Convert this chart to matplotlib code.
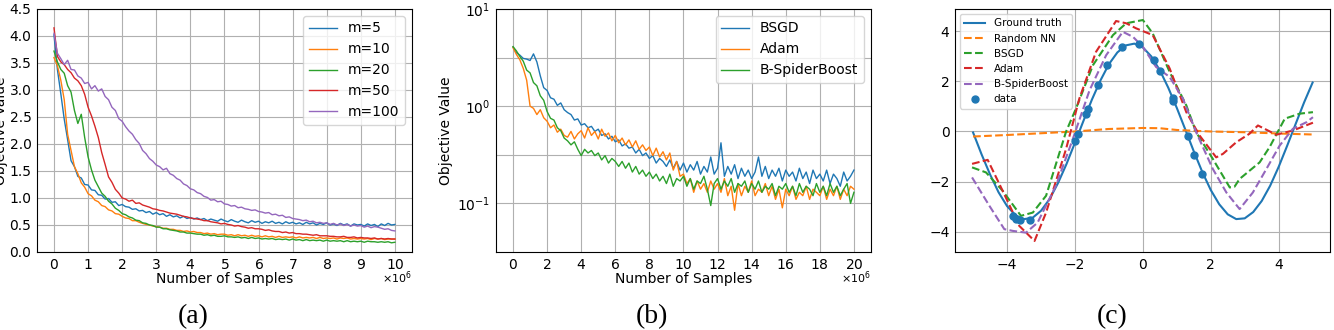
# Three-panel figure: batch sizes, optimizer comparison, regression fit
import numpy as np
import matplotlib.pyplot as plt
from matplotlib.ticker import ScalarFormatter

# ---- panel (a): objective vs samples for different batch sizes m ----
m5 = [4.02, 3.38, 2.93, 2.46, 2.08, 1.69, 1.58, 1.40, 1.37, 1.25,
      1.24, 1.15, 1.14, 1.06, 1.05, 0.98, 0.99, 0.92, 0.93, 0.86,
      0.88, 0.84, 0.83, 0.79, 0.80, 0.76, 0.77, 0.73, 0.75, 0.70,
      0.73, 0.69, 0.71, 0.66, 0.69, 0.65, 0.67, 0.63, 0.66, 0.62,
      0.64, 0.61, 0.63, 0.60, 0.62, 0.58, 0.61, 0.59, 0.57, 0.61,
      0.58, 0.56, 0.60, 0.57, 0.55, 0.59, 0.56, 0.54, 0.58, 0.55,
      0.57, 0.53, 0.56, 0.54, 0.57, 0.53, 0.55, 0.52, 0.56, 0.53,
      0.55, 0.52, 0.54, 0.51, 0.55, 0.52, 0.54, 0.50, 0.53, 0.51,
      0.54, 0.50, 0.52, 0.49, 0.53, 0.50, 0.52, 0.48, 0.52, 0.50,
      0.51, 0.48, 0.52, 0.49, 0.51, 0.47, 0.52, 0.49, 0.53, 0.50, 0.51]
m10 = [3.60, 3.45, 3.18, 2.82, 2.18, 1.88, 1.58, 1.45, 1.28, 1.20,
       1.08, 1.04, 0.96, 0.93, 0.86, 0.84, 0.78, 0.76, 0.71, 0.70,
       0.66, 0.63, 0.62, 0.58, 0.58, 0.55, 0.53, 0.51, 0.50, 0.48,
       0.47, 0.46, 0.44, 0.44, 0.42, 0.42, 0.40, 0.40, 0.38, 0.39,
       0.37, 0.38, 0.36, 0.36, 0.34, 0.35, 0.33, 0.34, 0.32, 0.33,
       0.33, 0.31, 0.32, 0.30, 0.32, 0.30, 0.31, 0.29, 0.31, 0.29,
       0.30, 0.28, 0.30, 0.28, 0.29, 0.27, 0.29, 0.27, 0.28, 0.27,
       0.28, 0.26, 0.28, 0.26, 0.27, 0.26, 0.27, 0.25, 0.27, 0.25,
       0.26, 0.25, 0.26, 0.24, 0.26, 0.25, 0.26, 0.24, 0.25, 0.24,
       0.25, 0.24, 0.25, 0.23, 0.25, 0.24, 0.25, 0.23, 0.24, 0.24, 0.24]
m20 = [3.72, 3.52, 3.38, 3.31, 3.08, 2.96, 2.62, 2.38, 2.55, 2.12,
       1.76, 1.52, 1.33, 1.21, 1.09, 1.03, 0.94, 0.89, 0.81, 0.77,
       0.71, 0.69, 0.65, 0.63, 0.59, 0.58, 0.54, 0.53, 0.50, 0.49,
       0.46, 0.46, 0.43, 0.43, 0.41, 0.40, 0.39, 0.37, 0.37, 0.35,
       0.35, 0.34, 0.33, 0.33, 0.31, 0.32, 0.30, 0.31, 0.29, 0.29,
       0.30, 0.28, 0.28, 0.27, 0.28, 0.26, 0.27, 0.25, 0.27, 0.25,
       0.26, 0.24, 0.25, 0.24, 0.25, 0.23, 0.24, 0.23, 0.24, 0.22,
       0.24, 0.22, 0.23, 0.21, 0.23, 0.21, 0.22, 0.21, 0.22, 0.20,
       0.22, 0.20, 0.21, 0.20, 0.21, 0.19, 0.21, 0.19, 0.20, 0.19,
       0.20, 0.18, 0.20, 0.19, 0.19, 0.18, 0.19, 0.18, 0.19, 0.17, 0.18]
m50 = [4.15, 3.62, 3.52, 3.47, 3.38, 3.32, 3.22, 3.17, 3.08, 2.92,
       2.68, 2.52, 2.33, 2.12, 1.84, 1.62, 1.39, 1.29, 1.16, 1.09,
       1.00, 0.98, 0.94, 0.96, 0.90, 0.91, 0.87, 0.85, 0.83, 0.80,
       0.79, 0.77, 0.76, 0.74, 0.72, 0.71, 0.70, 0.68, 0.66, 0.65,
       0.63, 0.62, 0.61, 0.60, 0.58, 0.58, 0.56, 0.55, 0.54, 0.52,
       0.53, 0.51, 0.50, 0.48, 0.49, 0.47, 0.46, 0.44, 0.45, 0.43,
       0.43, 0.42, 0.40, 0.41, 0.39, 0.38, 0.38, 0.36, 0.37, 0.35,
       0.36, 0.34, 0.34, 0.33, 0.33, 0.32, 0.31, 0.32, 0.30, 0.30,
       0.30, 0.29, 0.29, 0.28, 0.28, 0.29, 0.27, 0.27, 0.28, 0.26,
       0.27, 0.26, 0.26, 0.25, 0.26, 0.24, 0.25, 0.24, 0.25, 0.24, 0.24]
m100 = [4.05, 3.68, 3.58, 3.47, 3.55, 3.38, 3.37, 3.26, 3.22, 3.12,
        3.14, 3.02, 3.08, 2.98, 3.02, 2.88, 2.82, 2.68, 2.62, 2.47,
        2.42, 2.32, 2.24, 2.18, 2.08, 2.01, 1.88, 1.82, 1.73, 1.68,
        1.61, 1.58, 1.52, 1.55, 1.45, 1.42, 1.36, 1.33, 1.26, 1.23,
        1.17, 1.15, 1.10, 1.08, 1.03, 1.01, 0.96, 0.97, 0.93, 0.94,
        0.89, 0.88, 0.85, 0.86, 0.82, 0.83, 0.80, 0.79, 0.77, 0.78,
        0.75, 0.74, 0.72, 0.73, 0.69, 0.70, 0.67, 0.68, 0.64, 0.65,
        0.62, 0.61, 0.60, 0.58, 0.59, 0.56, 0.57, 0.54, 0.55, 0.53,
        0.54, 0.51, 0.53, 0.50, 0.52, 0.49, 0.51, 0.48, 0.50, 0.48,
        0.49, 0.46, 0.48, 0.45, 0.47, 0.46, 0.44, 0.42, 0.43, 0.40, 0.39]
curves_a = {'m=5': m5, 'm=10': m10, 'm=20': m20, 'm=50': m50, 'm=100': m100}

# ---- panel (b): BSGD / Adam / B-SpiderBoost, log scale ----
bsgd = [4.05, 3.55, 3.35, 3.10, 3.05, 2.95, 3.45, 2.85, 2.05, 1.55,
        1.45, 1.22, 1.18, 1.02, 1.08, 0.92, 0.86, 0.82, 0.72, 0.74,
        0.64, 0.66, 0.60, 0.62, 0.55, 0.58, 0.50, 0.52, 0.46, 0.49,
        0.43, 0.45, 0.39, 0.41, 0.37, 0.38, 0.33, 0.36, 0.31, 0.33,
        0.29, 0.31, 0.26, 0.29, 0.27, 0.24, 0.28, 0.23, 0.27, 0.22,
        0.26, 0.21, 0.25, 0.22, 0.27, 0.20, 0.24, 0.21, 0.30, 0.20,
        0.23, 0.42, 0.19, 0.24, 0.20, 0.25, 0.18, 0.23, 0.19, 0.22,
        0.18, 0.21, 0.30, 0.19, 0.24, 0.18, 0.22, 0.19, 0.23, 0.17,
        0.22, 0.19, 0.21, 0.17, 0.23, 0.18, 0.21, 0.16, 0.22, 0.18,
        0.20, 0.17, 0.22, 0.16, 0.20, 0.18, 0.15, 0.21, 0.17, 0.19, 0.22]
adam = [4.00, 3.40, 3.00, 2.45, 1.85, 1.00, 0.95, 0.82, 0.92, 0.76,
        0.70, 0.60, 0.64, 0.54, 0.58, 0.50, 0.48, 0.55, 0.46, 0.52,
        0.56, 0.47, 0.60, 0.50, 0.55, 0.46, 0.58, 0.49, 0.53, 0.44,
        0.50, 0.42, 0.47, 0.40, 0.45, 0.38, 0.44, 0.36, 0.40, 0.35,
        0.38, 0.31, 0.37, 0.30, 0.34, 0.28, 0.33, 0.22, 0.27, 0.19,
        0.20, 0.16, 0.18, 0.13, 0.17, 0.14, 0.16, 0.13, 0.17, 0.14,
        0.16, 0.13, 0.18, 0.12, 0.15, 0.085, 0.16, 0.12, 0.15, 0.13,
        0.17, 0.12, 0.14, 0.13, 0.16, 0.12, 0.15, 0.11, 0.14, 0.09,
        0.14, 0.12, 0.15, 0.11, 0.13, 0.12, 0.15, 0.11, 0.14, 0.13,
        0.12, 0.15, 0.11, 0.14, 0.12, 0.15, 0.11, 0.14, 0.12, 0.15, 0.14]
spider = [4.10, 3.70, 3.25, 2.90, 2.35, 2.20, 1.75, 1.62, 1.28, 1.15,
          0.88, 0.75, 0.72, 0.60, 0.56, 0.47, 0.44, 0.40, 0.43, 0.36,
          0.31, 0.36, 0.33, 0.35, 0.31, 0.33, 0.28, 0.31, 0.26, 0.29,
          0.27, 0.24, 0.27, 0.23, 0.26, 0.21, 0.24, 0.20, 0.22, 0.19,
          0.21, 0.18, 0.20, 0.17, 0.19, 0.16, 0.20, 0.15, 0.18, 0.17,
          0.19, 0.15, 0.18, 0.14, 0.17, 0.16, 0.19, 0.14, 0.095, 0.16,
          0.18, 0.14, 0.17, 0.15, 0.18, 0.13, 0.16, 0.15, 0.17, 0.13,
          0.16, 0.14, 0.17, 0.13, 0.15, 0.14, 0.16, 0.12, 0.15, 0.14,
          0.16, 0.13, 0.15, 0.12, 0.16, 0.13, 0.15, 0.14, 0.12, 0.16,
          0.13, 0.15, 0.12, 0.16, 0.13, 0.15, 0.12, 0.14, 0.16, 0.10, 0.13]
curves_b = {'BSGD': bsgd, 'Adam': adam, 'B-SpiderBoost': spider}

# ---- panel (c): fitted functions ----
gt_x = [-5.0, -4.75, -4.5, -4.25, -4.0, -3.75, -3.5, -3.25, -3.0, -2.75,
        -2.5, -2.25, -2.0, -1.75, -1.5, -1.25, -1.0, -0.75, -0.5, -0.25,
        0.0, 0.25, 0.5, 0.75, 1.0, 1.25, 1.5, 1.75, 2.0, 2.25,
        2.5, 2.75, 3.0, 3.25, 3.5, 3.75, 4.0, 4.25, 4.5, 4.75, 5.0]
gt_y = [-0.04, -0.91, -1.71, -2.42, -2.97, -3.34, -3.49, -3.44, -3.16, -2.70,
        -2.06, -1.30, -0.45, 0.42, 1.27, 2.03, 2.68, 3.15, 3.43, 3.50,
        3.35, 2.99, 2.44, 1.74, 0.94, 0.08, -0.79, -1.61, -2.33, -2.90,
        -3.30, -3.49, -3.46, -3.21, -2.77, -2.16, -1.41, -0.57, 0.30, 1.16, 1.95]
rnn_x = [-5.0, -4.0, -3.0, -2.0, -1.0, 0.0, 0.5, 1.0, 2.0, 3.0, 4.0, 5.0]
rnn_y = [-0.20, -0.14, -0.07, 0.00, 0.10, 0.14, 0.13, 0.06, 0.00, -0.03, -0.08, -0.12]
bsgd_x = [-5.03, -4.62, -4.13, -3.59, -3.24, -2.85, -2.26, -1.97, -1.47, -0.88, -0.49, 0.0,
          0.29, 0.79, 1.28, 1.57, 2.06, 2.56, 2.70, 2.85, 3.44, 3.73, 4.18, 4.62, 5.01]
bsgd_y = [-1.43, -1.63, -2.36, -3.36, -3.23, -2.56, 0.0, 0.91, 2.64, 3.84, 4.31, 4.44,
          3.91, 2.37, 1.04, -0.03, -1.09, -2.23, -2.20, -1.89, -1.23, -0.63, 0.51, 0.71, 0.77]
adam_x = [-5.03, -4.57, -4.13, -3.64, -3.19, -2.85, -2.26, -1.87, -1.38, -0.79, -0.49, -0.2,
          0.29, 0.79, 1.28, 1.67, 2.16, 2.36, 2.75, 3.14, 3.39, 3.93, 4.42, 5.01]
adam_y = [-1.29, -1.13, -2.36, -3.76, -4.36, -3.23, -0.69, 1.31, 3.17, 4.40, 4.31, 4.11,
          3.84, 2.51, 0.77, -0.16, -1.03, -0.89, -0.43, -0.09, 0.24, -0.13, 0.04, 0.35]
spb_x = [-5.03, -4.52, -4.08, -3.83, -3.44, -3.10, -2.56, -2.06, -1.57, -1.08, -0.59, -0.29,
         0.0, 0.39, 0.79, 1.18, 1.57, 2.06, 2.46, 2.85, 3.24, 3.64, 4.03, 4.42, 4.82, 5.01]
spb_y = [-1.83, -2.96, -3.89, -3.96, -4.03, -3.63, -2.16, -0.29, 1.64, 3.04, 3.97, 3.77,
         3.37, 2.57, 2.17, 1.31, -0.03, -1.49, -2.43, -3.09, -2.43, -1.49, -0.56, 0.11, 0.37, 0.57]
data_x = [-3.83, -3.73, -3.62, -3.32, -1.99, -1.92, -1.67, -1.62, -1.33, -1.05,
          -0.62, -0.10, 0.34, 0.52, 0.88, 0.90, 1.33, 1.52, 1.75]
data_y = [-3.36, -3.47, -3.53, -3.53, -0.36, -0.12, 0.71, 0.88, 1.87, 2.64,
          3.37, 3.47, 2.83, 2.40, 1.35, 1.21, -0.19, -0.93, -1.69]

fig = plt.figure(figsize=(13.34, 3.30), dpi=100)
ax1 = fig.add_axes([0.0277, 0.2364, 0.2811, 0.7364])
ax2 = fig.add_axes([0.3718, 0.2364, 0.2811, 0.7364])
ax3 = fig.add_axes([0.7159, 0.2364, 0.2811, 0.7364])

# (a)
xa = np.arange(len(m5)) * 0.1e6
for name, vals in curves_a.items():
    ax1.plot(xa, vals, lw=1, label=name)
ax1.set_xlim(-0.5e6, 10.5e6)
ax1.set_ylim(0, 4.5)
ax1.set_xticks(np.arange(0, 11) * 1e6)
ax1.set_yticks(np.arange(0, 4.6, 0.5))
ax1.set_xlabel('Number of Samples', labelpad=0)
ax1.set_ylabel('Objective Value', labelpad=1)
ax1.legend(loc='upper right', fontsize=10)

# (b)
xb = np.arange(len(bsgd)) * 0.2e6
for name, vals in curves_b.items():
    ax2.plot(xb, vals, lw=1, label=name)
ax2.set_yscale('log')
ax2.set_xlim(-1e6, 21e6)
ax2.set_ylim(10 ** -1.5, 10)
ax2.set_xticks(np.arange(0, 21, 2) * 1e6)
ax2.set_yticks([0.1, 1, 10])
ax2.set_yticks([10 ** -0.5, 10 ** 0.5], minor=True)
ax2.tick_params(axis='y', which='minor', length=0, labelleft=False)
ax2.grid(True, which='minor', color='#b0b0b0', lw=0.8)
ax2.set_xlabel('Number of Samples', labelpad=0)
ax2.set_ylabel('Objective Value', labelpad=3)
ax2.legend(loc='upper right', fontsize=10)

# x values are in millions; put the multiplier under the last tick label
for ax in (ax1, ax2):
    fmt = ScalarFormatter(useMathText=True)
    fmt.set_powerlimits((6, 6))
    ax.xaxis.set_major_formatter(fmt)
    ax.xaxis.get_offset_text().set_visible(False)
    ax.text(1.0, -0.105, r'$\times10^{6}$', transform=ax.transAxes,
            ha='right', va='center', fontsize=8)

# (c)
ax3.plot(gt_x, gt_y, color='C0', lw=1.5, label='Ground truth')
ax3.plot(rnn_x, rnn_y, '--', color='C1', lw=1.5, label='Random NN')
ax3.plot(bsgd_x, bsgd_y, '--', color='C2', lw=1.5, label='BSGD')
ax3.plot(adam_x, adam_y, '--', color='C3', lw=1.5, label='Adam')
ax3.plot(spb_x, spb_y, '--', color='C4', lw=1.5, label='B-SpiderBoost')
ax3.plot(data_x, data_y, 'o', color='C0', ms=5, label='data')
ax3.set_xticks([-4, -2, 0, 2, 4])
ax3.set_yticks([-4, -2, 0, 2, 4])
ax3.legend(loc='upper left', fontsize=7.5)

for ax in (ax1, ax2, ax3):
    ax.grid(True, color='#b0b0b0', lw=0.8)
    ax.tick_params(which='major', labelsize=10, length=0, pad=4)

# captions under each panel
for xpos, lab in [(0.1447, '(a)'), (0.4888, '(b)'), (0.8336, '(c)')]:
    fig.text(xpos, 0.042, lab, ha='center', va='center', fontsize=20,
             family='Liberation Serif')

fig.savefig('out.png', dpi=100)
